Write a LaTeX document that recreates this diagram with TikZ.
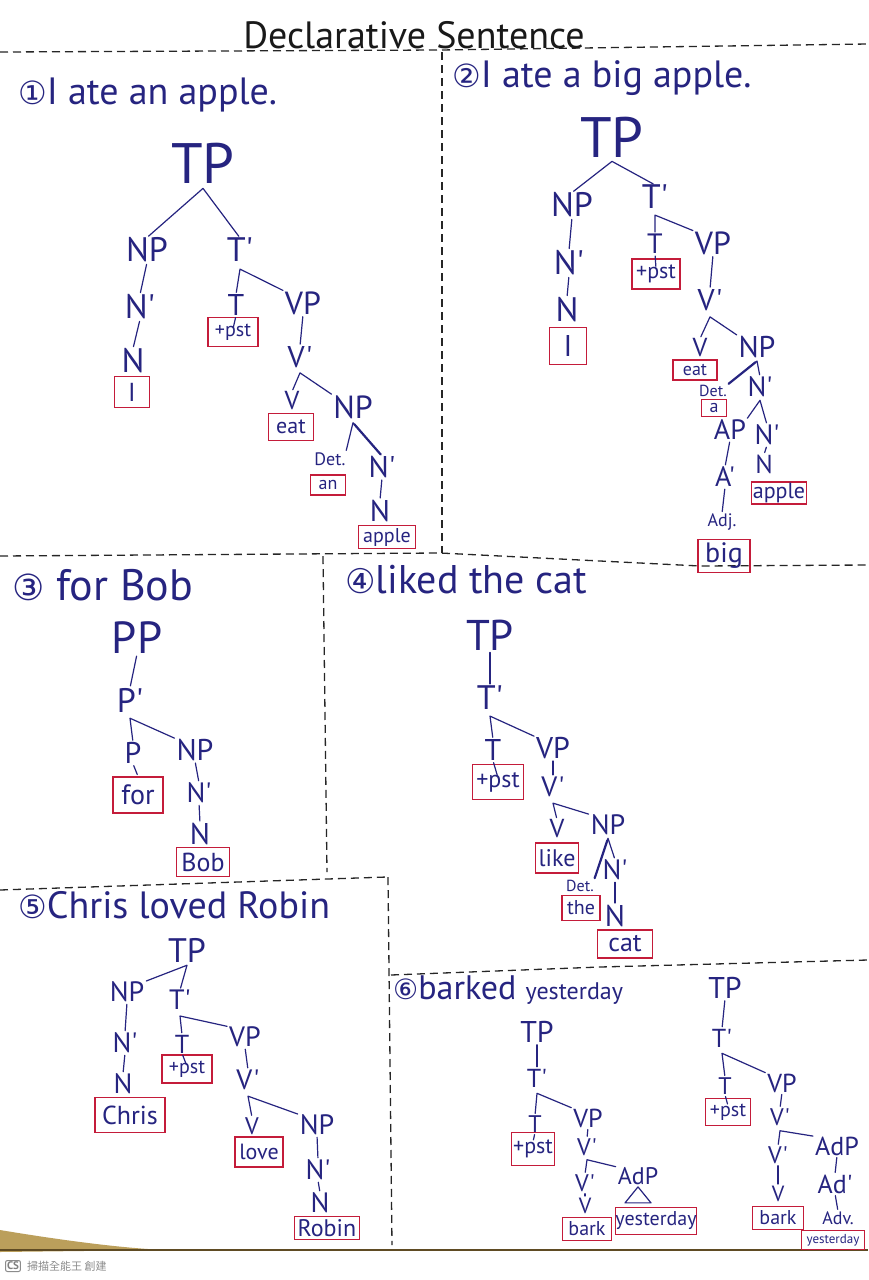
\documentclass[tikz,border=0pt]{standalone}
\usepackage{fontspec}
\newfontfamily\hw{PT Sans}
\newfontfamily\dv{DejaVu Sans}
\newfontfamily\cjk{Noto Sans CJK TC}
\definecolor{ink}{RGB}{38,36,128}
\definecolor{boxred}{RGB}{196,28,58}
\definecolor{paperedge}{RGB}{170,135,50}
\definecolor{edgeline}{RGB}{95,75,35}
\newcommand\hsz[1]{\fontsize{#1}{#1}\selectfont}
\tikzset{
 lab/.style={inner sep=0pt, text=ink, font=\hw\hsz{#1}},
 lab/.default=28,
 rb/.style n args={3}{draw=boxred, line width=1.3pt, inner sep=0pt, minimum width=#1, minimum height=#2, text=ink, font=\hw\hsz{#3}},
 tl/.style={draw=ink, line width=1.2pt, shorten <=2pt, shorten >=2pt, line cap=round, line join=round},
 thk/.style={tl, line width=2.2pt},
 dsh/.style={draw=black!85, line width=1.3pt, dash pattern=on 8pt off 5pt},
 hd/.style={anchor=west, inner sep=0pt, text=ink, font=\hw\hsz{#1}},
}
\begin{document}
\begin{tikzpicture}[x=1pt,y=-1pt]
\useasboundingbox (0,0) rectangle (868,1280);
\fill[white] (0,0) rectangle (868,1280);

% ---------- frame lines ----------
\draw[dsh] (0,52) -- (440,50) -- (868,44);
\draw[dsh] (442,52) -- (442,553);
\draw[dsh] (0,556) -- (440,553) -- (700,566) -- (868,565);
\draw[dsh] (323,556) -- (327,872);
\draw[dsh] (0,890) -- (387,877);
\draw[dsh] (388,877) -- (392,1245);
\draw[dsh] (391,975) -- (600,967) -- (868,960);
% paper bottom edge
\fill[paperedge!80] (0,1230) .. controls (60,1240) and (120,1248) .. (165,1250) -- (0,1252) -- cycle;
\draw[edgeline, line width=2pt] (0,1250) -- (868,1250);

% ---------- title and headers ----------
\node[inner sep=0pt, font=\hw\hsz{38}, text=black!90] (title) at (414,35) {Declarative Sentence};
\node[hd=38] (h1) at (18,95) {{\dv\hsz{32}①}I ate an apple.};
\node[hd=38] (h2) at (452,78) {{\dv\hsz{32}②}I ate a big apple.};
\node[hd=44] (h3) at (12,585) {{\dv\hsz{36}③} for Bob};
\node[hd=40] (h4) at (345,580) {{\dv\hsz{34}④}liked the cat};
\node[hd=38] (h5) at (18,905) {{\dv\hsz{32}⑤}Chris loved Robin};
\node[hd=34] (h6) at (393,990) {{\dv\hsz{28}⑥}barked {\hsz{24}yesterday}};

% ---------- panel 1 ----------
\node[lab=57] (aTP) at (203,163) {TP};
\node[lab=34] (aNP) at (147,250) {NP};
\node[lab=34] (aN1) at (140,307) {N'};
\node[lab=34] (aN) at (133,361) {N};
\node[rb={35pt}{31pt}{26}] (aI) at (132,392) {I};
\node[lab=34] (aT1) at (240,250) {T'};
\node[lab=30] (aT) at (236,305) {T};
\node[rb={50pt}{29pt}{20}] (apst) at (233,332) {+pst};
\node[lab=32] (aVP) at (303,303) {VP};
\node[lab=30] (aV1) at (300,357) {V'};
\node[lab=26] (aV) at (292,401) {V};
\node[rb={45pt}{27pt}{22}] (aeat) at (291,427) {eat};
\node[lab=32] (aNP2) at (353,407) {NP};
\node[lab=18] (aDet) at (330,459) {Det.};
\node[rb={35pt}{20pt}{18}] (aan) at (328,485) {an};
\node[lab=30] (aN2) at (382,467) {N'};
\node[lab=30] (aNn) at (380,511) {N};
\node[rb={57pt}{23pt}{20}] (aapple) at (387,537) {apple};
\coordinate (aTPj) at ([yshift=-5pt]aTP.south);
\coordinate (aT1j) at ([yshift=-7pt]aT1.south);
\coordinate (aV1j) at ([yshift=-5pt]aV1.south);
\coordinate (aNPj) at ([yshift=-4pt]aNP2.south);
\draw[tl] (aNP.north) -- (aTPj) -- (aT1.north);
\draw[tl] (aNP.south) -- (aN1.north);
\draw[tl] (aN1.south) -- (aN.north);
\draw[tl] (aT.north) -- (aT1j) -- (aVP.north west);
\draw[tl] (aT.south) -- ([yshift=-12pt]apst.north);
\draw[tl] (aVP.south) -- (aV1.north);
\draw[tl] (aV.north) -- (aV1j) -- (aNP2.north west);
\draw[tl] (aDet.north east) -- (aNPj) -- (aN2.north);
\draw[thk] (aNPj) -- (aN2.north);
\draw[tl] (aN2.south) -- (aNn.north);

% ---------- panel 2 ----------
\node[lab=57] (bTP) at (612,137) {TP};
\node[lab=34] (bNP) at (572,205) {NP};
\node[lab=34] (bN1) at (569,263) {N'};
\node[lab=34] (bN) at (567,310) {N};
\node[rb={37pt}{37pt}{30}] (bI) at (568,346) {I};
\node[lab=34] (bT1) at (655,197) {T'};
\node[lab=28] (bT) at (655,244) {T};
\node[rb={48pt}{30pt}{22}] (bpst) at (656,274) {+pst};
\node[lab=32] (bVP) at (713,243) {VP};
\node[lab=30] (bV1) at (710,300) {V'};
\node[lab=26] (bV) at (700,348) {V};
\node[rb={44pt}{20pt}{18}] (beat) at (695,370) {eat};
\node[lab=30] (bNP2) at (757,347) {NP};
\node[lab=16] (bDet) at (713,391) {Det.};
\node[rb={25pt}{17pt}{18}] (ba) at (714,408) {a};
\node[lab=28] (bN2) at (760,387) {N'};
\node[lab=28] (bAP) at (730,430) {AP};
\node[lab=28] (bN3) at (767,435) {N'};
\node[lab=28] (bA1) at (725,477) {A'};
\node[lab=18] (bAdj) at (722,522) {Adj.};
\node[rb={52pt}{33pt}{28}] (bbig) at (724,556) {big};
\node[lab=26] (bNn) at (764,464) {N};
\node[rb={55pt}{22pt}{22}] (bapple) at (779,493) {apple};
\coordinate (bTPj) at ([yshift=-4pt]bTP.south);
\coordinate (bT1j) at ([yshift=-6pt]bT1.south);
\coordinate (bV1j) at ([yshift=-6pt]bV1.south);
\coordinate (bNPj) at ([yshift=-3pt]bNP2.south);
\coordinate (bN2j) at ([yshift=-3pt]bN2.south);
\draw[tl] (bNP.north) -- (bTPj) -- (bT1.north);
\draw[tl] (bNP.south) -- (bN1.north);
\draw[tl] (bN1.south) -- (bN.north);
\draw[tl] (bT.north) -- (bT1j) -- (bVP.north west);
\draw[tl] (bT.south) -- ([yshift=-10pt]bpst.north);
\draw[tl] (bVP.south) -- (bV1.north);
\draw[tl] (bV.north) -- (bV1j) -- (bNP2.north west);
\draw[tl] (bDet.north east) -- (bNPj) -- (bN2.north);
\draw[thk] (bDet.north east) -- (bNPj);
\draw[tl] (bAP.north east) -- (bN2j) -- (bN3.north);
\draw[tl] (bAP.south) -- (bA1.north);
\draw[tl] (bA1.south) -- (bAdj.north);
\draw[tl] (bN3.south) -- (bNn.north);

% ---------- panel 3 ----------
\node[lab=45] (cPP) at (137,638) {PP};
\node[lab=34] (cP1) at (130,700) {P'};
\node[lab=30] (cP) at (133,753) {P};
\node[rb={50pt}{36pt}{28}] (cfor) at (138,795) {for};
\node[lab=30] (cNP) at (195,750) {NP};
\node[lab=28] (cN1) at (199,793) {N'};
\node[lab=30] (cN) at (200,834) {N};
\node[rb={53pt}{29pt}{26}] (cBob) at (203,862) {Bob};
\coordinate (cP1j) at ([yshift=-6pt]cP1.south);
\draw[tl] (cPP.south) -- (cP1.north);
\draw[tl] (cP.north) -- (cP1j) -- (cNP.north west);
\draw[tl] (cP.south) -- (cfor.north);
\draw[tl] (cNP.south) -- (cN1.north);
\draw[tl] (cN1.south) -- (cN.north);

% ---------- panel 4 ----------
\node[lab=43] (dTP) at (490,635) {TP};
\node[lab=34] (dT1) at (490,698) {T'};
\node[lab=30] (dT) at (493,750) {T};
\node[rb={51pt}{35pt}{24}] (dpst) at (498,782) {+pst};
\node[lab=30] (dVP) at (553,748) {VP};
\node[lab=28] (dV1) at (553,787) {V'};
\node[lab=26] (dV) at (557,829) {V};
\node[rb={43pt}{30pt}{24}] (dlike) at (557,858) {like};
\node[lab=28] (dNP) at (608,825) {NP};
\node[lab=16] (dDet) at (580,886) {Det.};
\node[rb={38pt}{25pt}{20}] (dthe) at (581,908) {the};
\node[lab=28] (dN1) at (615,870) {N'};
\node[lab=30] (dN) at (615,916) {N};
\node[rb={55pt}{28pt}{26}] (dcat) at (625,944) {cat};
\coordinate (dT1j) at ([yshift=-6pt]dT1.south);
\coordinate (dV1j) at ([yshift=-6pt]dV1.south);
\coordinate (dNPj) at ([yshift=-3pt]dNP.south);
\draw[tl] (dTP.south) -- (dT1.north);
\draw[tl] (dT.north) -- (dT1j) -- (dVP.north west);
\draw[tl] (dT.south) -- ([yshift=-14pt]dpst.north);
\draw[tl] (dVP.south) -- (dV1.north);
\draw[tl] (dV.north) -- (dV1j) -- (dNP.north west);
\draw[tl] (dDet.north east) -- (dNPj) -- (dN1.north);
\draw[thk] (dDet.north east) -- (dNPj);
\draw[tl] (dN1.south) -- (dN.north);

% ---------- panel 5 ----------
\node[lab=34] (eTP) at (187,950) {TP};
\node[lab=28] (eNP) at (127,992) {NP};
\node[lab=28] (eT1) at (180,1000) {T'};
\node[lab=28] (eN1) at (125,1043) {N'};
\node[lab=28] (eN) at (123,1084) {N};
\node[rb={70pt}{35pt}{26}] (eChris) at (130,1115) {Chris};
\node[lab=26] (eT) at (182,1044) {T};
\node[rb={50pt}{28pt}{20}] (epst) at (187,1069) {+pst};
\node[lab=28] (eVP) at (245,1037) {VP};
\node[lab=28] (eV1) at (248,1080) {V'};
\node[lab=24] (eV) at (252,1126) {V};
\node[rb={48pt}{30pt}{22}] (elove) at (259,1152) {love};
\node[lab=28] (eNP2) at (317,1125) {NP};
\node[lab=28] (eN2) at (318,1170) {N'};
\node[lab=28] (eNn) at (320,1203) {N};
\node[rb={65pt}{23pt}{24}] (eRobin) at (327,1228) {Robin};
\coordinate (eTPj) at ([yshift=-3pt]eTP.south);
\coordinate (eT1j) at ([yshift=-6pt]eT1.south);
\coordinate (eV1j) at ([yshift=-6pt]eV1.south);
\draw[tl] (eNP.north east) -- (eTPj) -- (eT1.north);
\draw[tl] (eNP.south) -- (eN1.north);
\draw[tl] (eN1.south) -- (eN.north);
\draw[tl] (eT.north) -- (eT1j) -- (eVP.north west);
\draw[tl] (eT.south) -- ([yshift=-12pt]epst.north);
\draw[tl] (eVP.south) -- (eV1.north);
\draw[tl] (eV.north) -- (eV1j) -- (eNP2.north west);
\draw[tl] (eNP2.south) -- (eN2.north);
\draw[tl] (eN2.south) -- (eNn.north);

% ---------- panel 6a ----------
\node[lab=30] (fTP) at (537,1032) {TP};
\node[lab=26] (fT1) at (537,1078) {T'};
\node[lab=24] (fT) at (535,1124) {T};
\node[rb={43pt}{33pt}{22}] (fpst) at (533,1149) {+pst};
\node[lab=26] (fVP) at (588,1118) {VP};
\node[lab=24] (fV1) at (587,1147) {V'};
\node[lab=24] (fV2) at (585,1183) {V'};
\node[lab=22] (fV) at (585,1206) {V};
\node[rb={49pt}{23pt}{20}] (fbark) at (587,1229) {bark};
\node[lab=24] (fAdP) at (638,1176) {AdP};
\node[rb={78pt}{27pt}{20}] (fyest) at (656,1221) {yesterday};
\coordinate (fT1j) at ([yshift=-6pt]fT1.south);
\coordinate (fV1j) at ([yshift=-4pt]fV1.south);
\draw[tl] (fTP.south) -- (fT1.north);
\draw[tl] (fT.north) -- (fT1j) -- (fVP.north west);
\draw[tl] (fT.south) -- ([yshift=-10pt]fpst.north);
\draw[tl] (fVP.south) -- (fV1.north);
\draw[tl] (fV2.north) -- (fV1j) -- (fAdP.north west);
\draw[tl] (fV2.south) -- (fV.north);
\draw[draw=ink, line width=1.2pt, line join=round] ([yshift=-2pt]fAdP.south) -- ++(-13,16) -- ++(26,0) -- cycle;

% ---------- panel 6b ----------
\node[lab=30] (gTP) at (725,988) {TP};
\node[lab=26] (gT1) at (722,1038) {T'};
\node[lab=24] (gT) at (725,1086) {T};
\node[rb={45pt}{27pt}{20}] (gpst) at (728,1112) {+pst};
\node[lab=26] (gVP) at (782,1083) {VP};
\node[lab=24] (gV1) at (780,1117) {V'};
\node[lab=24] (gV2) at (778,1155) {V'};
\node[lab=22] (gV) at (778,1194) {V};
\node[rb={51pt}{23pt}{20}] (gbark) at (778,1218) {bark};
\node[lab=26] (gAdP) at (837,1146) {AdP};
\node[lab=26] (gAd1) at (835,1184) {Ad'};
\node[lab=18] (gAdv) at (838,1218) {Adv.};
\node[rb={63pt}{19pt}{13}] (gyest) at (833,1240) {yesterday};
\coordinate (gT1j) at ([yshift=-6pt]gT1.south);
\coordinate (gV1j) at ([yshift=-5pt]gV1.south);
\draw[tl] (gTP.south) -- (gT1.north);
\draw[tl] (gT.north) -- (gT1j) -- (gVP.north west);
\draw[tl] (gT.south) -- ([yshift=-8pt]gpst.north);
\draw[tl] (gVP.south) -- (gV1.north);
\draw[tl] (gV2.north) -- (gV1j) -- (gAdP.north west);
\draw[tl] (gV2.south) -- (gV.north);
\draw[tl] (gAdP.south) -- (gAd1.north);
\draw[tl] (gAd1.south) -- (gAdv.north);

% ---------- watermark ----------
\node[draw=black!45, rounded corners=2pt, line width=1pt, inner sep=1.5pt, text=black!50, font=\hw\bfseries\hsz{11}] (wcs) at (13,1266) {CS};
\node[anchor=west, inner sep=0pt, text=black!45, font=\cjk\hsz{11}] (wtxt) at (27,1266) {掃描全能王 創建};
\end{tikzpicture}
\end{document}
